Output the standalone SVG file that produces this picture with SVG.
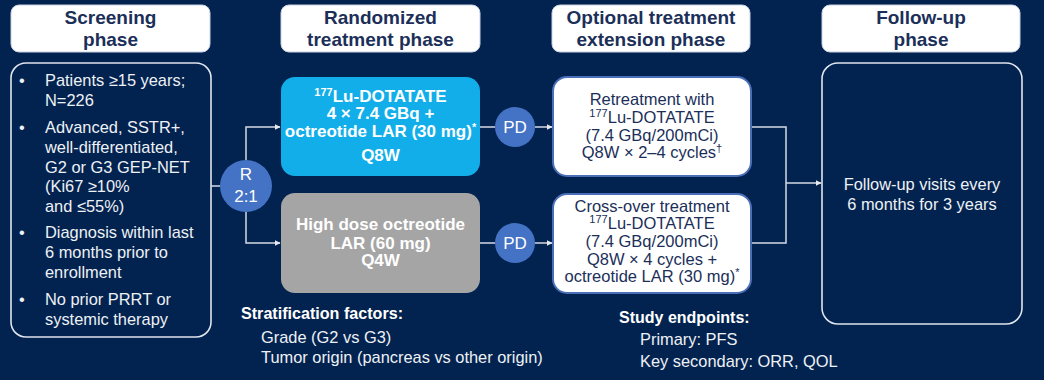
<svg xmlns="http://www.w3.org/2000/svg" width="1044" height="380" viewBox="0 0 1044 380">
<style>
text{font-family:"Liberation Sans",Arial,sans-serif}
.hdr{fill:#ffffff;stroke:#c9d3e3;stroke-width:1}
.ht{font-size:19px;font-weight:bold;fill:#1b2f59;text-anchor:middle}
.wt{font-size:16.4px;fill:#eef1f6}
.wb{font-size:17px;fill:#ffffff;font-weight:bold;text-anchor:middle}
.dk{font-size:16.5px;fill:#1b2f59;text-anchor:middle}
.outl{fill:none;stroke:#dfe5ee;stroke-width:1.6}
.wbox{fill:#ffffff;stroke:#4a6fb8;stroke-width:2}
.circ{fill:#4472c4}
.ct{font-size:17px;fill:#ffffff;text-anchor:middle}
.ln{fill:none;stroke:#d5dbe5;stroke-width:1.5}
.bt{font-size:16px;font-weight:bold;fill:#ffffff}
</style>
<defs>
<marker id="ah" viewBox="0 0 10 10" refX="9" refY="5" markerWidth="6" markerHeight="6" markerUnits="userSpaceOnUse" orient="auto">
<path d="M0,0 L10,5 L0,10 z" fill="#e6eaf0"/>
</marker>
</defs>
<rect width="1044" height="380" fill="#02234f"/>

<g id="hdr-screening">
<rect class="hdr" x="11" y="5" width="199" height="47" rx="8"/>
<text class="ht" x="110.5" y="24">Screening</text>
<text class="ht" x="110.5" y="46">phase</text>
</g>
<g id="hdr-randomized">
<rect class="hdr" x="281" y="5" width="199" height="47" rx="8"/>
<text class="ht" x="380.5" y="24">Randomized</text>
<text class="ht" x="380.5" y="46">treatment phase</text>
</g>
<g id="hdr-optional">
<rect class="hdr" x="552" y="5" width="198" height="47" rx="8"/>
<text class="ht" x="651" y="24">Optional treatment</text>
<text class="ht" x="651" y="46">extension phase</text>
</g>
<g id="hdr-followup">
<rect class="hdr" x="822" y="5" width="198" height="47" rx="8"/>
<text class="ht" x="921" y="24">Follow-up</text>
<text class="ht" x="921" y="46">phase</text>
</g>

<g id="screening">
<rect class="outl" x="11" y="63" width="200" height="274" rx="15"/>
<g class="wt">
<text x="19" y="86">•</text><text x="45" y="86">Patients ≥15 years;</text>
<text x="45" y="106">N=226</text>
<text x="19" y="133">•</text><text x="45" y="133">Advanced, SSTR+,</text>
<text x="45" y="153">well-differentiated,</text>
<text x="45" y="173">G2 or G3 GEP-NET</text>
<text x="45" y="192">(Ki67 ≥10%</text>
<text x="45" y="212">and ≤55%)</text>
<text x="19" y="238">•</text><text x="45" y="238">Diagnosis within last</text>
<text x="45" y="258">6 months prior to</text>
<text x="45" y="278">enrollment</text>
<text x="19" y="305">•</text><text x="45" y="305">No prior PRRT or</text>
<text x="45" y="325">systemic therapy</text>
</g>
</g>

<g id="connectors">
<path class="ln" d="M211,186 H220"/>
<path class="ln" d="M246,160 V127 H280" marker-end="url(#ah)"/>
<path class="ln" d="M246,212 V243 H280" marker-end="url(#ah)"/>
<path class="ln" d="M480,127 H495"/>
<path class="ln" d="M480,243 H495"/>
<path class="ln" d="M535,127 H552" marker-end="url(#ah)"/>
<path class="ln" d="M535,243 H552" marker-end="url(#ah)"/>
<path class="ln" d="M751,127 H786 V243 H751"/>
<path class="ln" d="M786,183 H821" marker-end="url(#ah)"/>
</g>

<g id="randomize">
<circle class="circ" cx="246" cy="186" r="26"/>
<text class="ct" x="246" y="180">R</text>
<text class="ct" x="246" y="202">2:1</text>
</g>

<g id="lu-arm">
<rect x="281" y="77" width="199" height="99" rx="14" fill="#12aee9"/>
<text class="wb" x="380.5" y="102"><tspan font-size="11" dy="-6">177</tspan><tspan dy="6">Lu-DOTATATE</tspan></text>
<text class="wb" x="380.5" y="119">4 × 7.4 GBq +</text>
<text class="wb" x="380.5" y="137">octreotide LAR (30 mg)<tspan font-size="11" dy="-6">*</tspan></text>
<text class="wb" x="380.5" y="161">Q8W</text>
</g>

<g id="octreotide-arm">
<rect x="281" y="193" width="199" height="100" rx="14" fill="#a5a5a5"/>
<text class="wb" x="380.5" y="230">High dose octreotide</text>
<text class="wb" x="380.5" y="249">LAR (60 mg)</text>
<text class="wb" x="380.5" y="266">Q4W</text>
</g>

<g id="pd-top">
<circle class="circ" cx="515" cy="127" r="20"/>
<text class="ct" x="515" y="133">PD</text>
</g>
<g id="pd-bottom">
<circle class="circ" cx="515" cy="243" r="20"/>
<text class="ct" x="515" y="249">PD</text>
</g>

<g id="retreatment">
<rect class="wbox" x="553" y="77" width="198" height="99" rx="14"/>
<text class="dk" x="652" y="105">Retreatment with</text>
<text class="dk" x="652" y="123"><tspan font-size="11" dy="-6">177</tspan><tspan dy="6">Lu-DOTATATE</tspan></text>
<text class="dk" x="652" y="141">(7.4 GBq/200mCi)</text>
<text class="dk" x="652" y="158">Q8W × 2–4 cycles<tspan font-size="11" dy="-6">†</tspan></text>
</g>

<g id="crossover">
<rect class="wbox" x="553" y="194" width="198" height="99" rx="14"/>
<text class="dk" x="652" y="212">Cross-over treatment</text>
<text class="dk" x="652" y="229"><tspan font-size="11" dy="-6">177</tspan><tspan dy="6">Lu-DOTATATE</tspan></text>
<text class="dk" x="652" y="247">(7.4 GBq/200mCi)</text>
<text class="dk" x="652" y="265">Q8W × 4 cycles +</text>
<text class="dk" x="652" y="282">octreotide LAR (30 mg)<tspan font-size="11" dy="-6">*</tspan></text>
</g>

<g id="followup">
<rect class="outl" x="822" y="63" width="200" height="261" rx="16"/>
<text class="wt" x="922" y="190" text-anchor="middle">Follow-up visits every</text>
<text class="wt" x="922" y="210" text-anchor="middle">6 months for 3 years</text>
</g>

<g id="stratification">
<text class="bt" x="241" y="319" textLength="162" lengthAdjust="spacingAndGlyphs">Stratification factors:</text>
<text class="wt" x="261" y="343">Grade (G2 vs G3)</text>
<text class="wt" x="261" y="363">Tumor origin (pancreas vs other origin)</text>
</g>

<g id="endpoints">
<text class="bt" x="619" y="323">Study endpoints:</text>
<text class="wt" x="640" y="345">Primary: PFS</text>
<text class="wt" x="640" y="367">Key secondary: ORR, QOL</text>
</g>
</svg>
